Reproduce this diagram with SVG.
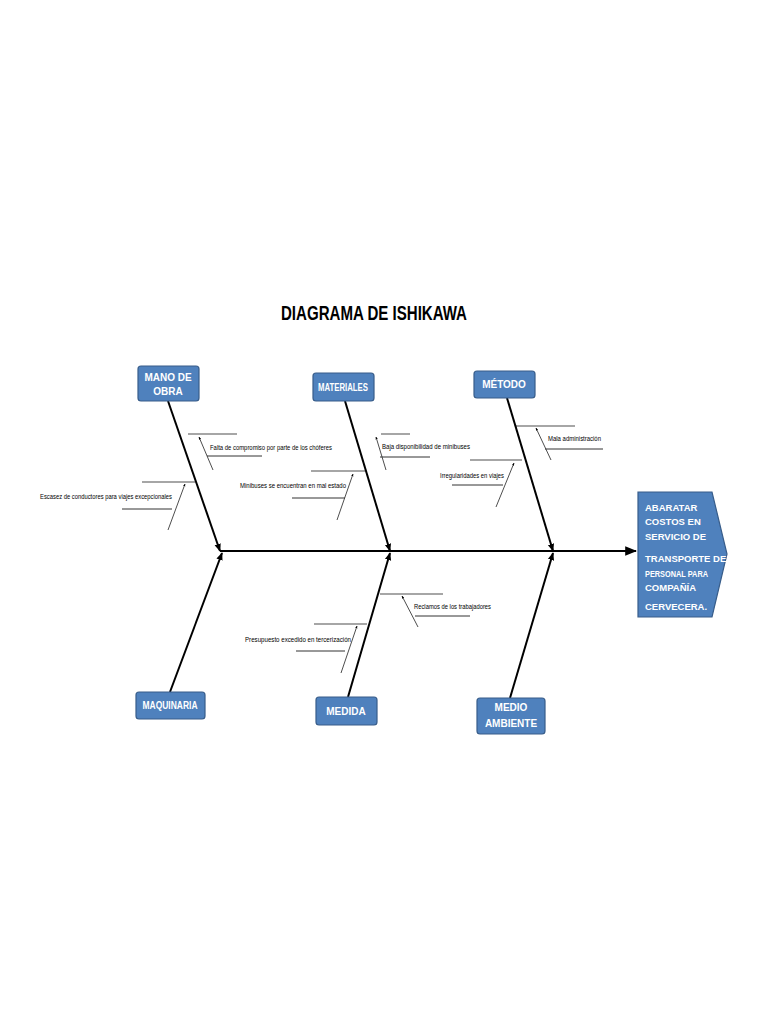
<svg xmlns="http://www.w3.org/2000/svg" width="768" height="1024" viewBox="0 0 768 1024">
<style>
.box{fill:#4f81bd;stroke:#385d8a;stroke-width:1.2}
.bt{font-family:"Liberation Sans",Arial,sans-serif;font-size:10px;font-weight:bold;fill:#fff;text-anchor:middle}
.st{font-family:"Liberation Sans",Arial,sans-serif;font-size:7px;fill:#000}
.bone{stroke:#000;stroke-width:2;fill:none}
.thin{stroke:#000;stroke-width:0.7;fill:none}
.under{stroke:#333;stroke-width:1;fill:none}
</style>
<defs>
<marker id="a" viewBox="0 0 10 10" refX="9" refY="5" markerWidth="6" markerHeight="6" orient="auto"><path d="M0,1 L10,5 L0,9 z" fill="#000"/></marker>
<marker id="s" viewBox="0 0 10 10" refX="9" refY="5" markerWidth="4" markerHeight="4" orient="auto"><path d="M0,1 L10,5 L0,9 z" fill="#000"/></marker>
</defs>
<rect width="768" height="1024" fill="#fff"/>
<text x="374" y="320" font-family="Liberation Sans,Arial,sans-serif" font-size="20" font-weight="bold" text-anchor="middle" textLength="186" lengthAdjust="spacingAndGlyphs">DIAGRAMA DE ISHIKAWA</text>
<g id="connectors">
<line class="bone" x1="220" y1="551" x2="636" y2="551" marker-end="url(#a)"/>
<line class="bone" x1="168" y1="401" x2="220" y2="551" marker-end="url(#s)"/>
<line class="bone" x1="345" y1="401" x2="390" y2="551" marker-end="url(#s)"/>
<line class="bone" x1="507" y1="398" x2="553" y2="551" marker-end="url(#s)"/>
<line class="bone" x1="170" y1="692" x2="222" y2="553" marker-end="url(#s)"/>
<line class="bone" x1="348" y1="697" x2="390" y2="553" marker-end="url(#s)"/>
<line class="bone" x1="510" y1="698" x2="553" y2="553" marker-end="url(#s)"/>
<line class="thin" x1="188" y1="434" x2="237" y2="434"/>
<line class="thin" x1="213" y1="470" x2="199" y2="437" marker-end="url(#s)"/>
<line class="under" x1="207" y1="456" x2="262" y2="456"/>
<line class="thin" x1="142" y1="482" x2="195" y2="482"/>
<line class="thin" x1="168" y1="530" x2="185" y2="484" marker-end="url(#s)"/>
<line class="under" x1="122" y1="509" x2="172" y2="509"/>
<line class="thin" x1="381" y1="434" x2="410" y2="434"/>
<line class="thin" x1="386" y1="470" x2="376" y2="437" marker-end="url(#s)"/>
<line class="under" x1="380" y1="457" x2="430" y2="457"/>
<line class="thin" x1="311" y1="471" x2="365" y2="471"/>
<line class="thin" x1="337" y1="520" x2="353" y2="474" marker-end="url(#s)"/>
<line class="under" x1="292" y1="498" x2="345" y2="498"/>
<line class="thin" x1="516" y1="426" x2="575" y2="426"/>
<line class="thin" x1="551" y1="460" x2="536" y2="428" marker-end="url(#s)"/>
<line class="under" x1="545" y1="449" x2="603" y2="449"/>
<line class="thin" x1="470" y1="460" x2="522" y2="460"/>
<line class="thin" x1="496" y1="507" x2="514" y2="463" marker-end="url(#s)"/>
<line class="under" x1="452" y1="485" x2="503" y2="485"/>
<line class="thin" x1="380" y1="594" x2="443" y2="594"/>
<line class="thin" x1="418" y1="627" x2="402" y2="596" marker-end="url(#s)"/>
<line class="under" x1="415" y1="616" x2="470" y2="616"/>
<line class="thin" x1="314" y1="624" x2="367" y2="624"/>
<line class="thin" x1="341" y1="673" x2="357" y2="626" marker-end="url(#s)"/>
<line class="under" x1="296" y1="651" x2="345" y2="651"/>
</g>
<g id="labels">
<text class="st" x="210" y="450" textLength="122" lengthAdjust="spacingAndGlyphs">Falta de compromiso por parte de los chóferes</text>
<text class="st" x="40" y="499" textLength="132" lengthAdjust="spacingAndGlyphs">Escasez de conductores para viajes excepcionales</text>
<text class="st" x="382" y="449" textLength="88" lengthAdjust="spacingAndGlyphs">Baja disponibilidad de minibuses</text>
<text class="st" x="240" y="488" textLength="106" lengthAdjust="spacingAndGlyphs">Minibuses se encuentran en mal estado</text>
<text class="st" x="548" y="441" textLength="53" lengthAdjust="spacingAndGlyphs">Mala administración</text>
<text class="st" x="440" y="478" textLength="64" lengthAdjust="spacingAndGlyphs">Irregularidades en viajes</text>
<text class="st" x="414" y="609" textLength="77" lengthAdjust="spacingAndGlyphs">Reclamos de los trabajadores</text>
<text class="st" x="245" y="642" textLength="106" lengthAdjust="spacingAndGlyphs">Presupuesto excedido en tercerización</text>
</g>
<g id="mano"><rect class="box" x="138" y="366" width="61" height="35" rx="3"/><text class="bt" x="168" y="381">MANO DE</text><text class="bt" x="168" y="395">OBRA</text></g>
<g id="materiales"><rect class="box" x="313" y="373" width="61" height="28" rx="3"/><text class="bt" x="343" y="391" textLength="50" lengthAdjust="spacingAndGlyphs">MATERIALES</text></g>
<g id="metodo"><rect class="box" x="474" y="371" width="61" height="27" rx="3"/><text class="bt" x="504" y="388">MÉTODO</text></g>
<g id="maquinaria"><rect class="box" x="136" y="692" width="69" height="27" rx="3"/><text class="bt" x="170" y="709" textLength="55" lengthAdjust="spacingAndGlyphs">MAQUINARIA</text></g>
<g id="medida"><rect class="box" x="316" y="697" width="61" height="28" rx="3"/><text class="bt" x="346" y="715">MEDIDA</text></g>
<g id="medio"><rect class="box" x="477" y="698" width="68" height="36" rx="3"/><text class="bt" x="511" y="711">MEDIO</text><text class="bt" x="511" y="727">AMBIENTE</text></g>
<g id="efecto"><path class="box" d="M638,492 L712,492 L727,554 L712,617 L638,617 Z"/>
<g font-family="Liberation Sans,Arial,sans-serif" font-size="9.5" font-weight="bold" fill="#fff">
<text x="645" y="511">ABARATAR</text><text x="645" y="525">COSTOS EN</text><text x="645" y="540">SERVICIO DE</text><text x="645" y="562">TRANSPORTE DE</text><text x="645" y="577" textLength="63" lengthAdjust="spacingAndGlyphs">PERSONAL PARA</text><text x="645" y="591">COMPAÑÍA</text><text x="645" y="610">CERVECERA.</text></g></g>
</svg>
